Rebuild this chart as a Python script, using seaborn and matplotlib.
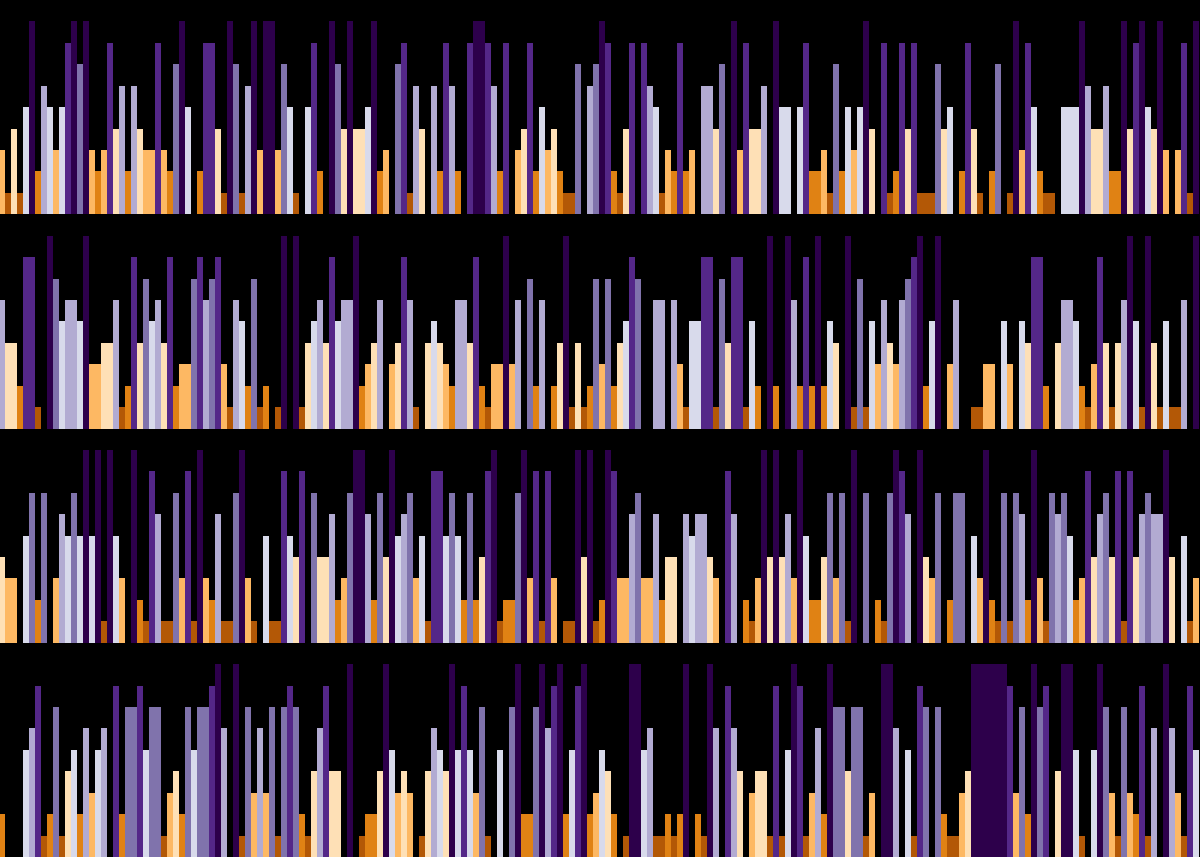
import matplotlib
matplotlib.use("Agg")
import matplotlib.pyplot as plt
import seaborn as sns

# bar levels, one list per strip (0 = no bar)
row_1 = [3,1,4,1,5,9,2,6,5,3,5,8,9,7,9,3,2,3,8,4,6,2,6,4,3,3,8,3,2,7,9,5,0,2,8,8,4,1,9,7,1,6,9,3,9,9,3,7,5,1,0,5,8,2,0,9,7,4,9,4,4,5,9,2,3,0,7,
         8,1,6,4,0,6,2,8,6,2,0,8,9,9,8,6,2,8,0,3,4,8,2,5,3,4,2,1,1,7,0,6,7,9,8,2,1,4,8,0,8,6,5,1,3,2,8,2,3,0,6,6,4,7,0,9,3,8,4,4,6,0,9,5,5,0,
         5,8,2,2,3,1,7,2,5,3,5,9,4,0,8,1,2,8,4,8,1,1,1,7,4,5,0,2,8,4,1,0,2,7,0,1,9,3,8,5,2,1,1,0,5,5,5,9,6,4,4,6,2,2,9,4,8,9,5,4,9,3,0,3,8,1,9]

row_2 = [6,4,4,2,8,8,1,0,9,7,5,6,6,5,9,3,3,4,4,6,1,2,8,4,7,5,6,4,8,2,3,3,7,8,6,7,8,3,1,6,5,2,7,1,2,0,1,9,0,9,1,4,5,6,4,8,5,6,6,9,2,3,4,6,0,3,4,
         8,6,1,0,4,5,4,3,2,6,6,4,8,2,1,3,3,9,3,6,0,7,2,6,0,2,4,9,1,4,1,2,7,3,7,2,4,5,8,7,0,0,6,6,0,6,3,1,5,5,8,8,1,7,4,8,8,1,5,2,0,9,2,0,9,6,
         2,8,2,9,2,5,4,0,9,1,7,1,5,3,6,4,3,6,7,8,9,2,5,9,0,3,6,0,0,1,1,3,3,0,5,3,0,5,4,8,8,2,0,4,6,6,5,2,1,3,8,4,1,4,6,9,5,1,9,4,1,5,1,1,6,0,9]

row_3 = [4,3,3,0,5,7,2,7,0,3,6,5,7,5,9,5,9,1,9,5,3,0,9,2,1,8,6,1,1,7,3,8,1,9,3,2,6,1,1,7,9,3,1,0,5,1,1,8,5,4,8,0,7,4,4,6,2,3,7,9,9,6,2,7,4,9,5,
         6,7,3,5,1,8,8,5,7,5,2,7,2,4,8,9,1,2,2,7,9,3,8,1,8,3,0,1,1,9,4,9,1,2,9,8,3,3,6,7,3,3,6,2,4,4,0,6,5,6,6,4,3,0,8,6,0,2,1,3,9,4,9,4,6,3,
         9,5,2,2,4,7,3,7,1,9,0,7,0,2,1,7,9,8,6,0,9,4,3,7,0,2,7,7,0,5,3,9,2,1,7,1,7,6,2,9,3,1,7,6,7,5,2,3,8,4,6,7,4,8,1,8,4,6,7,6,6,9,4,0,5,1,3]

row_4 = [2,0,0,0,5,6,8,1,2,7,1,4,5,2,6,3,5,6,0,8,2,7,7,8,5,7,7,1,3,4,2,7,5,7,7,8,9,6,0,9,1,7,3,6,3,7,1,7,8,7,2,1,4,6,8,4,4,0,9,0,1,2,2,4,9,5,3,
         4,3,0,1,4,6,5,4,9,5,8,5,3,7,1,0,5,0,7,9,2,2,7,9,6,8,9,2,5,8,9,2,3,5,4,2,0,1,9,9,5,6,1,1,2,1,2,9,0,2,1,9,6,0,8,6,4,0,3,4,4,1,8,1,5,9,
         8,1,3,6,2,9,7,7,4,7,7,1,3,0,9,9,6,0,5,1,8,7,0,7,2,1,1,3,4,9,9,9,9,9,9,8,3,7,2,9,7,8,0,4,9,9,5,1,0,5,9,7,3,1,7,3,2,8,1,6,0,9,6,3,1,8,5]

rows = [row_1, row_2, row_3, row_4]
levels = [0, 1, 2, 3, 4, 5, 6, 7, 8, 9]
colors = ["#000000", "#b35806", "#e08214", "#fdb863", "#fee0b6",
          "#d8daeb", "#b2abd2", "#8073ac", "#542788", "#2d004b"]

fig, axes = plt.subplots(4, 1, figsize=(12, 8.57), dpi=100, facecolor="black")
fig.subplots_adjust(left=0, right=1, bottom=0, top=1, hspace=0)

for ax, row in zip(axes, rows):
    print(len(row))
    sns.barplot(x=list(range(len(row))), y=row, hue=row, hue_order=levels,
                palette=colors, dodge=False, width=1, saturation=1,
                linewidth=0, legend=False, ax=ax)
    ax.set_xlim(-0.39, 199.61)
    ax.set_ylim(0, 10)
    ax.set_facecolor("black")
    ax.set_axis_off()

fig.savefig("out.png", facecolor="black")
